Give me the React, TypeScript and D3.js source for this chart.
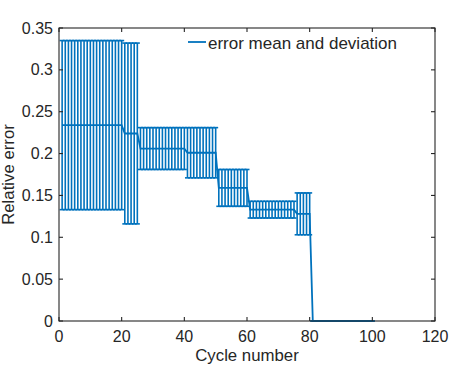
import * as d3 from 'd3';

// per-cycle relative error (mean) and its deviation, cycles 1..100
const meanErr = [
  0.234, 0.234, 0.234, 0.234, 0.234, 0.234, 0.234, 0.234, 0.234, 0.234,
  0.234, 0.234, 0.234, 0.234, 0.234, 0.234, 0.234, 0.234, 0.234, 0.234,
  0.224, 0.224, 0.224, 0.224, 0.224, 0.206, 0.206, 0.206, 0.206, 0.206,
  0.206, 0.206, 0.206, 0.206, 0.206, 0.206, 0.206, 0.206, 0.206, 0.206,
  0.201, 0.201, 0.201, 0.201, 0.201, 0.201, 0.201, 0.201, 0.201, 0.201,
  0.159, 0.159, 0.159, 0.159, 0.159, 0.159, 0.159, 0.159, 0.159, 0.159,
  0.133, 0.133, 0.133, 0.133, 0.133, 0.133, 0.133, 0.133, 0.133, 0.133,
  0.133, 0.133, 0.133, 0.133, 0.133, 0.128, 0.128, 0.128, 0.128, 0.128,
  0, 0, 0, 0, 0, 0, 0, 0, 0, 0,
  0, 0, 0, 0, 0, 0, 0, 0, 0, 0,
];
const devErr = [
  0.101, 0.101, 0.101, 0.101, 0.101, 0.101, 0.101, 0.101, 0.101, 0.101,
  0.101, 0.101, 0.101, 0.101, 0.101, 0.101, 0.101, 0.101, 0.101, 0.101,
  0.108, 0.108, 0.108, 0.108, 0.108, 0.025, 0.025, 0.025, 0.025, 0.025,
  0.025, 0.025, 0.025, 0.025, 0.025, 0.025, 0.025, 0.025, 0.025, 0.025,
  0.030, 0.030, 0.030, 0.030, 0.030, 0.030, 0.030, 0.030, 0.030, 0.030,
  0.022, 0.022, 0.022, 0.022, 0.022, 0.022, 0.022, 0.022, 0.022, 0.022,
  0.010, 0.010, 0.010, 0.010, 0.010, 0.010, 0.010, 0.010, 0.010, 0.010,
  0.010, 0.010, 0.010, 0.010, 0.010, 0.025, 0.025, 0.025, 0.025, 0.025,
  0, 0, 0, 0, 0, 0, 0, 0, 0, 0,
  0, 0, 0, 0, 0, 0, 0, 0, 0, 0,
];

const xTicks = [0, 20, 40, 60, 80, 100, 120];
const yTicks = [0, 0.05, 0.1, 0.15, 0.2, 0.25, 0.3, 0.35];
const yTickLabels = ['0', '0.05', '0.1', '0.15', '0.2', '0.25', '0.3', '0.35'];
const legendLabel = 'error mean and deviation';

const W = 474;
const H = 366;
const margin = { top: 28, right: 39, bottom: 45, left: 59 };
const blue = '#0072bd';
const ink = '#262626';
const font = '"Liberation Sans", Arial, Helvetica, sans-serif';

export default function App() {
  const x = d3.scaleLinear().domain([0, 120]).range([margin.left, W - margin.right]);
  const y = d3.scaleLinear().domain([0, 0.35]).range([H - margin.bottom, margin.top]);
  const pts = meanErr.map((m, i) => ({ c: i + 1, m, d: devErr[i] }));
  const line = d3
    .line<{ c: number; m: number }>()
    .x((p) => x(p.c))
    .y((p) => y(p.m));
  const cap = 2.5;
  const tickLen = 4;
  const x0 = margin.left;
  const x1 = W - margin.right;
  const y0 = H - margin.bottom;
  const y1 = margin.top;

  return (
    <svg width={W} height={H} style={{ position: 'absolute', left: 0, top: 0, background: '#fff' }}>
      <rect x={0} y={0} width={W} height={H} fill="#fff" />
      {/* error bars */}
      <g stroke={blue} strokeWidth={1.6} fill="none">
        {pts.map((p) => {
          const cx = x(p.c);
          const lo = y(p.m - p.d);
          const hi = y(p.m + p.d);
          return (
            <g key={p.c}>
              <line x1={cx} x2={cx} y1={lo} y2={hi} />
              <line x1={cx - cap} x2={cx + cap} y1={lo} y2={lo} />
              <line x1={cx - cap} x2={cx + cap} y1={hi} y2={hi} />
            </g>
          );
        })}
      </g>
      <path d={line(pts) || ''} fill="none" stroke={blue} strokeWidth={1.8} />

      {/* axes box and ticks */}
      <g stroke={ink} strokeWidth={1.1} fill="none">
        <rect x={x0} y={y1} width={x1 - x0} height={y0 - y1} />
        {xTicks.map((t) => (
          <g key={'x' + t}>
            <line x1={x(t)} x2={x(t)} y1={y0} y2={y0 - tickLen} />
            <line x1={x(t)} x2={x(t)} y1={y1} y2={y1 + tickLen} />
          </g>
        ))}
        {yTicks.map((t) => (
          <g key={'y' + t}>
            <line x1={x0} x2={x0 + tickLen} y1={y(t)} y2={y(t)} />
            <line x1={x1} x2={x1 - tickLen} y1={y(t)} y2={y(t)} />
          </g>
        ))}
      </g>

      <g fill={ink} fontFamily={font} fontSize={16}>
        {xTicks.map((t) => (
          <text key={'xl' + t} x={x(t)} y={y0 + 21} textAnchor="middle">
            {t}
          </text>
        ))}
        {yTicks.map((t, i) => (
          <text key={'yl' + t} x={x0 - 6} y={y(t) + 5.5} textAnchor="end">
            {yTickLabels[i]}
          </text>
        ))}
      </g>
      <text x={(x0 + x1) / 2} y={361} textAnchor="middle" fontFamily={font} fontSize={16.8} fill={ink}>
        Cycle number
      </text>
      <text
        transform={`translate(14,${(y0 + y1) / 2}) rotate(-90)`}
        textAnchor="middle"
        fontFamily={font}
        fontSize={16.8}
        fill={ink}
      >
        Relative error
      </text>

      {/* legend */}
      <line x1={188} x2={206} y1={42} y2={42} stroke={blue} strokeWidth={1.8} />
      <text x={208} y={49} fontFamily={font} fontSize={17} fill={ink}>
        {legendLabel}
      </text>
    </svg>
  );
}
